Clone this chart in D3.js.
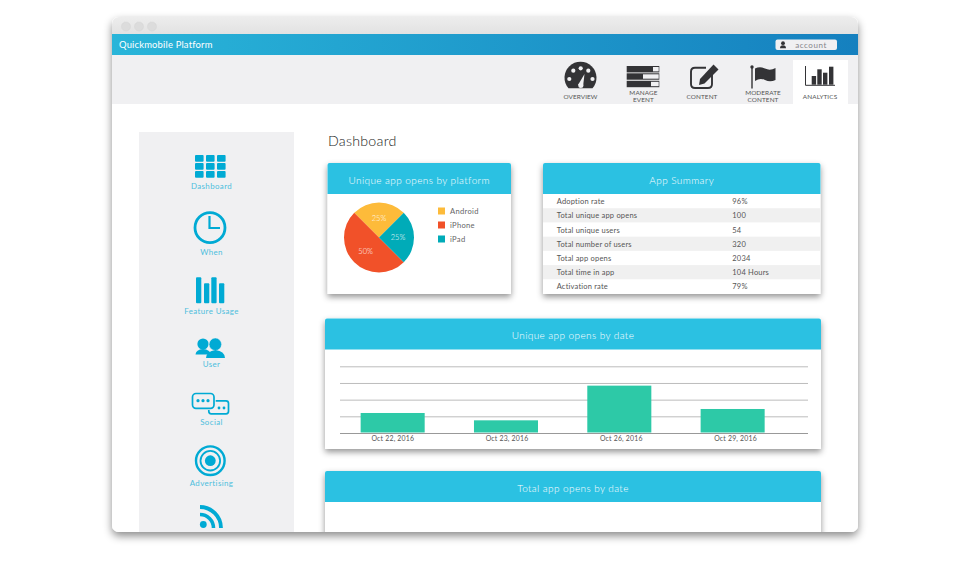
<!DOCTYPE html>
<html><head><meta charset="utf-8">
<script src="https://cdn.jsdelivr.net/npm/d3@7"></script>
<style>
html,body{margin:0;padding:0;background:#fff;overflow:hidden}
svg{display:block}
text{font-family:Lato,"Open Sans",sans-serif;font-weight:400}
</style></head><body>
<svg id="c" width="970" height="577"></svg>
<script>
// ---- chart data ----
const platforms = ["Android", "iPhone", "iPad"];
const platformShares = [25, 50, 25];
const platformColors = ["#FDBB3A", "#F15129", "#00ABB8"];
const summaryLabels = ["Adoption rate","Total unique app opens","Total unique users","Total number of users","Total app opens","Total time in app","Activation rate"];
const summaryValues = ["96%","100","54","320","2034","104 Hours","79%"];
const dates = ["Oct 22, 2016","Oct 23, 2016","Oct 26, 2016","Oct 29, 2016"];
const uniqueOpens = [30, 19, 71, 36];
const gridTicks = [0, 25, 50, 75, 100];
const sideItems = ["Dashboard","When","Feature Usage","User","Social","Advertising"];

const BLUE="#2BC1E2", ICON="#00AAD4", LABEL="#4DBEDD", DARK="#333336", PANEL="#F0F0F2";
const svg=d3.select("#c");
const defs=svg.append("defs");
const grad=defs.append("linearGradient").attr("id","bar");
grad.append("stop").attr("offset","0").attr("stop-color","#29B5D9");
grad.append("stop").attr("offset","1").attr("stop-color","#1580BF");
const tgrad=defs.append("linearGradient").attr("id","tb").attr("x2",0).attr("y2",1);
tgrad.append("stop").attr("offset","0").attr("stop-color","#EDEDED");
tgrad.append("stop").attr("offset","1").attr("stop-color","#E2E2E2");
function shadow(id,dy,blur,op){
  const f=defs.append("filter").attr("id",id).attr("x","-10%").attr("y","-10%").attr("width","120%").attr("height","125%");
  f.append("feDropShadow").attr("dx",0).attr("dy",dy).attr("stdDeviation",blur).attr("flood-color","#000").attr("flood-opacity",op);
}
shadow("win",4,4,.45); shadow("card",3,3,.42);
defs.append("clipPath").attr("id","winclip").append("rect").attr("x",112).attr("y",17).attr("width",746).attr("height",515).attr("rx",7);

function T(g,x,y,s,size,fill,anchor,ls){
  return g.append("text").attr("x",x).attr("y",y).attr("dy","0.35em").attr("font-size",size).attr("fill",fill)
    .attr("text-anchor",anchor||"start").attr("letter-spacing",ls||0).text(s);
}
function R(g,x,y,w,h,fill,rx){return g.append("rect").attr("x",x).attr("y",y).attr("width",w).attr("height",h).attr("fill",fill).attr("rx",rx||0);}

// window
svg.append("rect").attr("x",112).attr("y",17).attr("width",746).attr("height",515).attr("rx",7).attr("fill","#fff").attr("filter","url(#win)");
const win=svg.append("g").attr("clip-path","url(#winclip)");
R(win,112,17,746,515,"#fff");
R(win,112,17,746,17,"url(#tb)");
[126,139,152].forEach(x=>win.append("circle").attr("cx",x).attr("cy",26.5).attr("r",4.5).attr("fill","#DCDCDC").attr("stroke","#D4D4D4").attr("stroke-width",.5));
R(win,112,34,746,21,"url(#bar)");
T(win,119,45,"Quickmobile Platform",9.4,"#fff","start",.2);
R(win,775.5,39.5,61.5,10.5,"#F0F0F2",2);
win.append("circle").attr("cx",783).attr("cy",43.2).attr("r",1.9).attr("fill",DARK);
win.append("path").attr("d","M780 48.3 q0 -3 3 -3 q3 0 3 3z").attr("fill",DARK);
T(win,811,44.7,"account",8,"#85858A","middle",.55);

// nav
R(win,112,55,746,49,PANEL);
R(win,793,60,55,44,"#fff");
const nav=win.append("g");
[["OVERVIEW",580.5,96.5],["MANAGE",643.5,93],["EVENT",643.5,100],["CONTENT",702,96.5],["MODERATE",763,93],["CONTENT",763,100],["ANALYTICS",820,96.5]]
 .forEach(d=>T(nav,d[1],d[2],d[0],6.4,"#555","middle",.1));
// overview gauge
nav.append("path").attr("d","M568.5 88.3 A16 16 0 1 1 592.5 88.3 Z").attr("fill",DARK);
[[569.3,79],[573.3,70.7],[580.7,68.3],[588.3,70.7],[592.5,79]].forEach(p=>nav.append("circle").attr("cx",p[0]).attr("cy",p[1]).attr("r",2.1).attr("fill","#F0F0F2"));
nav.append("path").attr("d","M578 85 L584.5 74 L583 87 Z").attr("fill","#F0F0F2");
nav.append("circle").attr("cx",580.8).attr("cy",85.5).attr("r",2.5).attr("fill","#F0F0F2");
// manage event
[[66,653,5.7],[73.3,643,15.7],[80.8,651,7.7]].forEach(d=>{
  R(nav,626.7,d[0],32.6,6.4,DARK);
  R(nav,d[1],d[0]+1,d[2],4.4,"#F0F0F2");
});
// content
nav.append("path").attr("d","M706 67.7 H695 Q691 67.7 691 71.7 V84 Q691 88 695 88 H708 Q712 88 712 84 V74").attr("fill","none").attr("stroke",DARK).attr("stroke-width",1.9);
nav.append("path").attr("d","M713.5 64.5 L718.5 69.5 L704.5 83.5 L699 85 L700 79 Z").attr("fill",DARK);
// moderate flag
nav.append("rect").attr("x",751.3).attr("y",67).attr("width",1.4).attr("height",21.5).attr("fill",DARK);
nav.append("circle").attr("cx",752).attr("cy",67).attr("r",1.7).attr("fill",DARK);
nav.append("path").attr("d","M755 68.5 Q760 66 765 68.5 T775.5 68 V80 Q770 82.5 765 80 T755 81 Z").attr("fill",DARK);
// analytics
nav.append("path").attr("d","M805.5 66 V85.3 H835").attr("fill","none").attr("stroke",DARK).attr("stroke-width",1);
[[811.7,76],[817.3,69.3],[823,72.7],[829,66.7]].forEach(d=>R(nav,d[0],d[1],4.4,84.7-d[1],DARK));

// sidebar
R(win,139,132,155,400,PANEL);
const side=win.append("g");
[186,252,311,364,422,483].forEach((y,i)=>T(side,211.5,y,sideItems[i],7.9,LABEL,"middle",.4));
d3.range(3).forEach(r=>d3.range(3).forEach(c=>R(side,195+c*11,155+r*8,8.6,6.7,ICON,1)));
side.append("circle").attr("cx",210).attr("cy",227.7).attr("r",15).attr("fill","none").attr("stroke",ICON).attr("stroke-width",2.8);
side.append("path").attr("d","M209.5 216 V228 H220").attr("fill","none").attr("stroke",ICON).attr("stroke-width",2.2);
[[196,277.3],[204,283.3],[211.3,277.3],[219,283.3]].forEach(d=>R(side,d[0],d[1],5.3,303.3-d[1],ICON,1));
side.append("circle").attr("cx",203).attr("cy",344).attr("r",5.6).attr("fill",ICON);
side.append("path").attr("d","M195.5 354.5 Q196 349.5 203 349 Q210 349.5 211 354.5 Z").attr("fill",ICON);
side.append("circle").attr("cx",215.3).attr("cy",344.3).attr("r",6.2).attr("fill",ICON).attr("stroke",PANEL).attr("stroke-width",.4);
side.append("path").attr("d","M206 358 Q206.5 351 215.5 350 Q224.5 351 225 358 Z").attr("fill",ICON);
side.append("rect").attr("x",208.8).attr("y",400.8).attr("width",19.7).attr("height",13).attr("rx",2.5).attr("fill",PANEL).attr("stroke",ICON).attr("stroke-width",1.7);
side.append("rect").attr("x",192.5).attr("y",393.5).attr("width",21.5).attr("height",14.8).attr("rx",3.5).attr("fill",PANEL).attr("stroke",PANEL).attr("stroke-width",3.4);
side.append("rect").attr("x",192.5).attr("y",393.5).attr("width",21.5).attr("height",14.8).attr("rx",3.5).attr("fill",PANEL).attr("stroke",ICON).attr("stroke-width",1.7);
[198,203,208].forEach(x=>side.append("circle").attr("cx",x).attr("cy",400.7).attr("r",1.6).attr("fill",ICON));
[219,224].forEach(x=>side.append("circle").attr("cx",x).attr("cy",408).attr("r",1.4).attr("fill",ICON));
side.append("circle").attr("cx",210.3).attr("cy",460.7).attr("r",14.3).attr("fill","none").attr("stroke",ICON).attr("stroke-width",2.4);
side.append("circle").attr("cx",210.3).attr("cy",460.7).attr("r",9.8).attr("fill","none").attr("stroke",ICON).attr("stroke-width",1.8);
side.append("circle").attr("cx",210.3).attr("cy",460.7).attr("r",5.4).attr("fill",ICON);
side.append("circle").attr("cx",203.3).attr("cy",524.5).attr("r",3.4).attr("fill",ICON);
side.append("path").attr("d","M200 514.5 A13.5 13.5 0 0 1 213.5 528").attr("fill","none").attr("stroke",ICON).attr("stroke-width",3.6);
side.append("path").attr("d","M200 507 A21 21 0 0 1 221 528").attr("fill","none").attr("stroke",ICON).attr("stroke-width",3.8);

// dashboard
T(win,328,141,"Dashboard",14.2,"#222","start",.25).style("font-weight",300);

function card(x,y,w,h,hh,title,size,ls){
  const g=win.append("g");
  g.append("path").attr("d",`M${x} ${y+2}q0 -2 2 -2H${x+w-2}q2 0 2 2V${y+h}H${x}Z`).attr("fill","#fff").attr("filter","url(#card)");
  g.append("path").attr("d",`M${x} ${y+2}q0 -2 2 -2H${x+w-2}q2 0 2 2V${y+hh}H${x}Z`).attr("fill",BLUE);
  T(g,x+w/2,y+hh/2+1.5,title,size,"#fff","middle",ls).style("font-weight",300);
  return g;
}
// pie card
const pc=card(327.5,163,183.5,131,31,"Unique app opens by platform",10,.4);
const pie=d3.pie().sort(null).startAngle(Math.PI/4).endAngle(Math.PI/4-2*Math.PI)(platformShares);
const arc=d3.arc().innerRadius(0).outerRadius(35);
const labelArc=d3.arc().innerRadius(19).outerRadius(19);
const pg=pc.append("g").attr("transform","translate(379,237.5)");
pg.selectAll("path").data(pie).join("path").attr("d",arc).attr("fill",(d,i)=>platformColors[i]);
pg.selectAll("text").data(pie).join("text")
  .attr("transform",d=>`translate(${labelArc.centroid(d)})`).attr("text-anchor","middle").attr("dy","0.35em")
  .attr("font-size",7.5).attr("fill","#fff").style("font-weight",300).text(d=>d.value+"%");
const leg=d3.scalePoint().domain(platforms).range([211,239]);
platforms.forEach((p,i)=>{
  R(pc,438,leg(p)-3.5,7,7,platformColors[i]);
  T(pc,450,leg(p),p,7.6,"#666","start",.3);
});
// summary card
const sc=card(543,163,277.5,131,31,"App Summary",10,.4);
const rowY=d3.scaleBand().domain(summaryLabels).range([194,293.5]);
summaryLabels.forEach((s,i)=>{
  if(i%2) R(sc,543,rowY(s),277.5,rowY.bandwidth(),"#F0F0F0");
  T(sc,556.7,rowY(s)+rowY.bandwidth()/2+.4,s,7.5,"#555","start",.2);
  T(sc,732.3,rowY(s)+rowY.bandwidth()/2+.4,summaryValues[i],7.5,"#555","start",.2);
});
// bar card
const bc=card(325,318.5,496,130.5,31,"Unique app opens by date",10,.4);
const x=d3.scaleBand().domain(dates).range([336,789.3]).paddingInner(.435).paddingOuter(.2175);
const xLabels=d3.scalePoint().domain(dates).range([392.3,735]);
const y=d3.scaleLinear().domain([0,100]).range([433,366.3]);
const gy=bc.append("g").attr("transform","translate(340,0)").call(d3.axisLeft(y).tickValues(gridTicks).tickSize(-468).tickFormat(""));
gy.select(".domain").remove();
gy.selectAll("line").attr("stroke",d=>d===0?"#999":"#BDBDBD");
bc.selectAll("rect.b").data(uniqueOpens).join("rect").attr("class","b")
  .attr("x",(d,i)=>x(dates[i])).attr("y",d=>y(d)).attr("width",x.bandwidth()).attr("height",d=>y(0)-y(d)-.5).attr("fill","#2DC9A7");
const gx=bc.append("g").attr("transform","translate(0,433)").call(d3.axisBottom(xLabels).tickSize(0).tickPadding(3));
gx.select(".domain").remove();
gx.selectAll("text").attr("font-size",6.9).attr("fill","#555").attr("letter-spacing",.2).style("font-family","Lato");
// empty card
card(325,471,496,80,31,"Total app opens by date",10,.4);
</script>
</body></html>
